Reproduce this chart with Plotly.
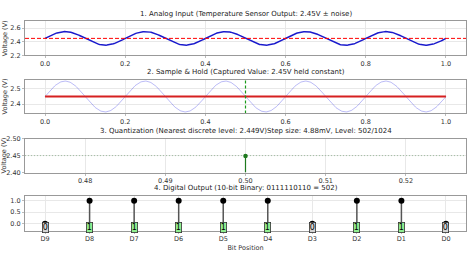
import numpy as np
import plotly.graph_objects as go
from plotly.subplots import make_subplots

# ---- data ----
t = np.linspace(0, 1, 500)
center_v = 2.45
amp = 0.1
freq = 5
analog = center_v + amp * np.sin(2 * np.pi * freq * t)
sample_time = 0.5
held_value = 2.45
quant_value = 2.449
bit_labels = ["D9", "D8", "D7", "D6", "D5", "D4", "D3", "D2", "D1", "D0"]
bits = [0, 1, 1, 1, 1, 1, 0, 1, 1, 0]

titles = [
    "1. Analog Input (Temperature Sensor Output: 2.45V ± noise)",
    "2. Sample & Hold (Captured Value: 2.45V held constant)",
    "3. Quantization (Nearest discrete level: 2.449V)Step size: 4.88mV, Level: 502/1024",
    "4. Digital Output (10-bit Binary: 0111110110 = 502)",
]

W, H = 474, 255
# pixel extents (top, bottom) of each panel
panels_px = [(18, 53), (78, 113), (139, 174), (198, 234)]

fig = make_subplots(rows=4, cols=1)

FONT = "DejaVu Sans"
TICKF = dict(family=FONT, size=6.5, color="#333")

ranges_x = [[-0.05, 1.05], [-0.05, 1.05], [0.4725, 0.5275], [-0.45, 9.45]]
ranges_y = [[2.2, 2.7], [2.34, 2.56], [2.4, 2.5], [-0.3, 1.21]]

# Panel 1
fig.add_trace(go.Scatter(x=t, y=analog, mode="lines", line=dict(color="#1a1acc", width=1.5)), row=1, col=1)
fig.add_trace(go.Scatter(x=ranges_x[0], y=[center_v, center_v], mode="lines",
                         line=dict(color="red", width=1, dash="4px,2px")), row=1, col=1)
# Panel 2
fig.add_trace(go.Scatter(x=t, y=analog, mode="lines", line=dict(color="rgba(60,60,230,0.35)", width=1)), row=2, col=1)
fig.add_trace(go.Scatter(x=[0, 1], y=[held_value, held_value], mode="lines",
                         line=dict(color="#d62020", width=2)), row=2, col=1)
fig.add_trace(go.Scatter(x=[sample_time, sample_time], y=ranges_y[1], mode="lines",
                         line=dict(color="#1a9a1a", width=1.2, dash="3px,2px")), row=2, col=1)
# Panel 3
fig.add_trace(go.Scatter(x=ranges_x[2], y=[center_v, center_v], mode="lines",
                         line=dict(color="rgba(60,130,60,0.4)", width=1, dash="1px,2px")), row=3, col=1)
fig.add_trace(go.Scatter(x=[sample_time, sample_time], y=[ranges_y[2][0], quant_value], mode="lines",
                         line=dict(color="#1f7a1f", width=1.2)), row=3, col=1)
fig.add_trace(go.Scatter(x=[sample_time], y=[quant_value], mode="markers",
                         marker=dict(color="#1f7a1f", size=4.5)), row=3, col=1)
# Panel 4
xs = list(range(len(bits)))
for i, b in enumerate(bits):
    fig.add_trace(go.Scatter(x=[i, i], y=[0, b], mode="lines",
                             line=dict(color="#555", width=1.5)), row=4, col=1)
fig.add_trace(go.Scatter(x=xs, y=bits, mode="markers",
                         marker=dict(color="black", size=6)), row=4, col=1)
for i, b in enumerate(bits):
    fig.add_annotation(x=i, y=-0.17, xref="x4", yref="y4", text=str(b), showarrow=False,
                       font=dict(family=FONT, size=8, color="black"),
                       bgcolor="#90ee90" if b else "#d3d3d3",
                       bordercolor="#333", borderwidth=0.8, borderpad=0)

# axes
for k in range(4):
    top, bot = panels_px[k]
    dom = [1 - bot / H, 1 - top / H]
    ax = dict(showgrid=True, gridcolor="#e8e8e8", gridwidth=0.8, zeroline=False,
              showline=True, linecolor="#999", linewidth=1, mirror=True,
              tickfont=TICKF, ticks="outside", ticklen=2, tickcolor="#bbb")
    xa = dict(ax, range=ranges_x[k])
    ya = dict(ax, range=ranges_y[k], domain=dom)
    if k < 2:
        xa.update(tickvals=[0, 0.2, 0.4, 0.6, 0.8, 1.0], ticktext=["0.0", "0.2", "0.4", "0.6", "0.8", "1.0"])
    elif k == 2:
        xa.update(tickvals=[0.48, 0.49, 0.50, 0.51, 0.52], ticktext=["0.48", "0.49", "0.50", "0.51", "0.52"])
    else:
        xa.update(tickvals=xs, ticktext=bit_labels)
    if k == 0:
        ya.update(tickvals=[2.2, 2.4, 2.6], ticktext=["2.2", "2.4", "2.6"])
    elif k == 1:
        ya.update(tickvals=[2.4, 2.5], ticktext=["2.4", "2.5"])
    elif k == 2:
        ya.update(tickvals=[2.40, 2.45, 2.50], ticktext=["2.40", "2.45", "2.50"])
    else:
        ya.update(tickvals=[0, 0.5, 1.0], ticktext=["0.0", "0.5", "1.0"])
    if k < 3:
        ya.update(title=dict(text="Voltage (V)", font=dict(family=FONT, size=6.5, color="#333"), standoff=2))
    else:
        xa.update(title=dict(text="Bit Position", font=dict(family=FONT, size=6.5, color="#333"), standoff=2))
    sfx = "" if k == 0 else str(k + 1)
    fig.layout["xaxis" + sfx].update(xa)
    fig.layout["yaxis" + sfx].update(ya)

for k, ttl in enumerate(titles):
    top, bot = panels_px[k]
    fig.add_annotation(x=0.5, y=1 - (top - 8) / H, xref="paper", yref="paper", text=ttl,
                       showarrow=False, font=dict(family=FONT, size=7, color="#222"),
                       xanchor="center", yanchor="middle")

fig.update_layout(width=W, height=H, margin=dict(l=25, r=8, t=0, b=0),
                  showlegend=False, plot_bgcolor="white", paper_bgcolor="white",
                  font=dict(family=FONT))
fig.write_html("out.html")
